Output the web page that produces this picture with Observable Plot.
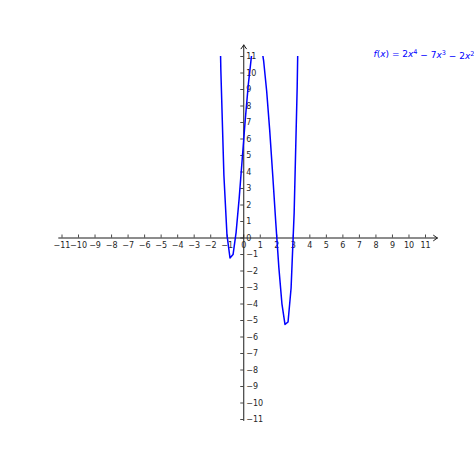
<!DOCTYPE html>
<html>
<head>
<meta charset="utf-8">
<script src="https://cdn.jsdelivr.net/npm/d3@7"></script>
<script src="https://cdn.jsdelivr.net/npm/@observablehq/plot@0.6"></script>
<style>
  html, body { margin: 0; padding: 0; background: #fff; }
  #chart svg { display: block; }
</style>
</head>
<body>
<div id="chart"></div>
<script>
const curveX = [-1.5714, -1.3866, -1.2017, -1.0168, -0.8319, -0.6471, -0.4622, -0.2773, -0.0924,
  0.0924, 0.2773, 0.4622, 0.6471, 0.8319, 1.0168, 1.2017, 1.3866, 1.5714, 1.7563, 1.9412,
  2.1261, 2.3109, 2.4958, 2.6807, 2.8655, 3.0504, 3.2353, 3.4202];
const curveY = [19.99, 10.18, 3.808, 0.210, -1.211, -1.002, 0.347, 2.402, 4.787,
  7.179, 9.314, 10.981, 12.028, 12.359, 11.930, 10.757, 8.912, 6.523, 3.770, 0.894,
  -1.809, -3.988, -5.236, -5.089, -3.029, 1.523, 9.197, 20.681];

// Tick values
const xTicks = d3.range(-11, 12);
const yTicks = d3.range(-11, 12);

// Axis extents (data units)
const xAxisExtent = [-11.2, 11.72];
const yAxisExtent = [-11.06, 11.7];

const titleText = "f(x) = 2x4 − 7x3 − 2x2 + 13x + 6";

const curve = curveX.map((x, i) => ({x, y: curveY[i]}));
const fmt = d => String(d).replace("-", "\u2212");

const W = 474, H = 474;
const mL = 61.5, mR = 49, mT = 56, mB = 55;
const unitPx = (H - mT - mB) / 22;
const tickLen = 3 / unitPx;

const axisColor = "#1a1a1a";

const chart = Plot.plot({
  width: W,
  height: H,
  marginLeft: mL,
  marginRight: mR,
  marginTop: mT,
  marginBottom: mB,
  x: {domain: [-11, 11], axis: null},
  y: {domain: [-11, 11], axis: null},
  style: {fontFamily: "DejaVu Sans", background: "#fff", color: "#262626", overflow: "hidden"},
  marks: [
    Plot.arrow([{x1: xAxisExtent[0], x2: xAxisExtent[1], y1: 0, y2: 0}],
      {x1: "x1", x2: "x2", y1: "y1", y2: "y2", stroke: axisColor, strokeWidth: 1, headLength: 7, headAngle: 70}),
    Plot.arrow([{x1: 0, x2: 0, y1: yAxisExtent[0], y2: yAxisExtent[1]}],
      {x1: "x1", x2: "x2", y1: "y1", y2: "y2", stroke: axisColor, strokeWidth: 1, headLength: 7, headAngle: 70}),
    Plot.ruleX(xTicks, {x: d => d, y1: 0, y2: tickLen, stroke: axisColor, strokeWidth: 0.8}),
    Plot.ruleY(yTicks, {y: d => d, x1: -tickLen, x2: 0, stroke: axisColor, strokeWidth: 0.8}),
    Plot.text(xTicks, {x: d => d, y: 0, text: fmt, dy: 7.5, fontSize: 8, textAnchor: "middle", fill: "#262626"}),
    Plot.text(yTicks, {x: 0, y: d => d, text: fmt, dx: 2.5, fontSize: 8, textAnchor: "start", fill: "#262626"}),
    Plot.line(curve, {x: "x", y: "y", stroke: "#0000ff", strokeWidth: 1.5, clip: true}),
    Plot.text([titleText], {frameAnchor: "top-left", text: d => d, dx: 311.5, dy: -6, fontSize: 9,
      textAnchor: "start", fill: "#0000ff", className: "ftitle"})
  ]
});

document.getElementById("chart").appendChild(chart);

// Render the formula with italic variables and superscripts
d3.select(chart).selectAll(".ftitle text").each(function() {
  const t = d3.select(this);
  t.text(null);
  const parts = [
    ["f", "i"], ["(", ""], ["x", "i"], [") = 2", ""], ["x", "i"], ["4", "s"],
    [" − 7", ""], ["x", "i"], ["3", "s"], [" − 2", ""], ["x", "i"], ["2", "s"],
    [" + 13", ""], ["x", "i"], [" + 6", ""]
  ];
  let sup = false;
  for (const [s, k] of parts) {
    const ts = t.append("tspan").text(s);
    if (k === "i") ts.attr("font-style", "italic");
    if (k === "s") { ts.attr("dy", "-0.45em").attr("font-size", "6.5"); sup = true; }
    else if (sup) { ts.attr("dy", "0.45em"); sup = false; }
  }
});
</script>
</body>
</html>
